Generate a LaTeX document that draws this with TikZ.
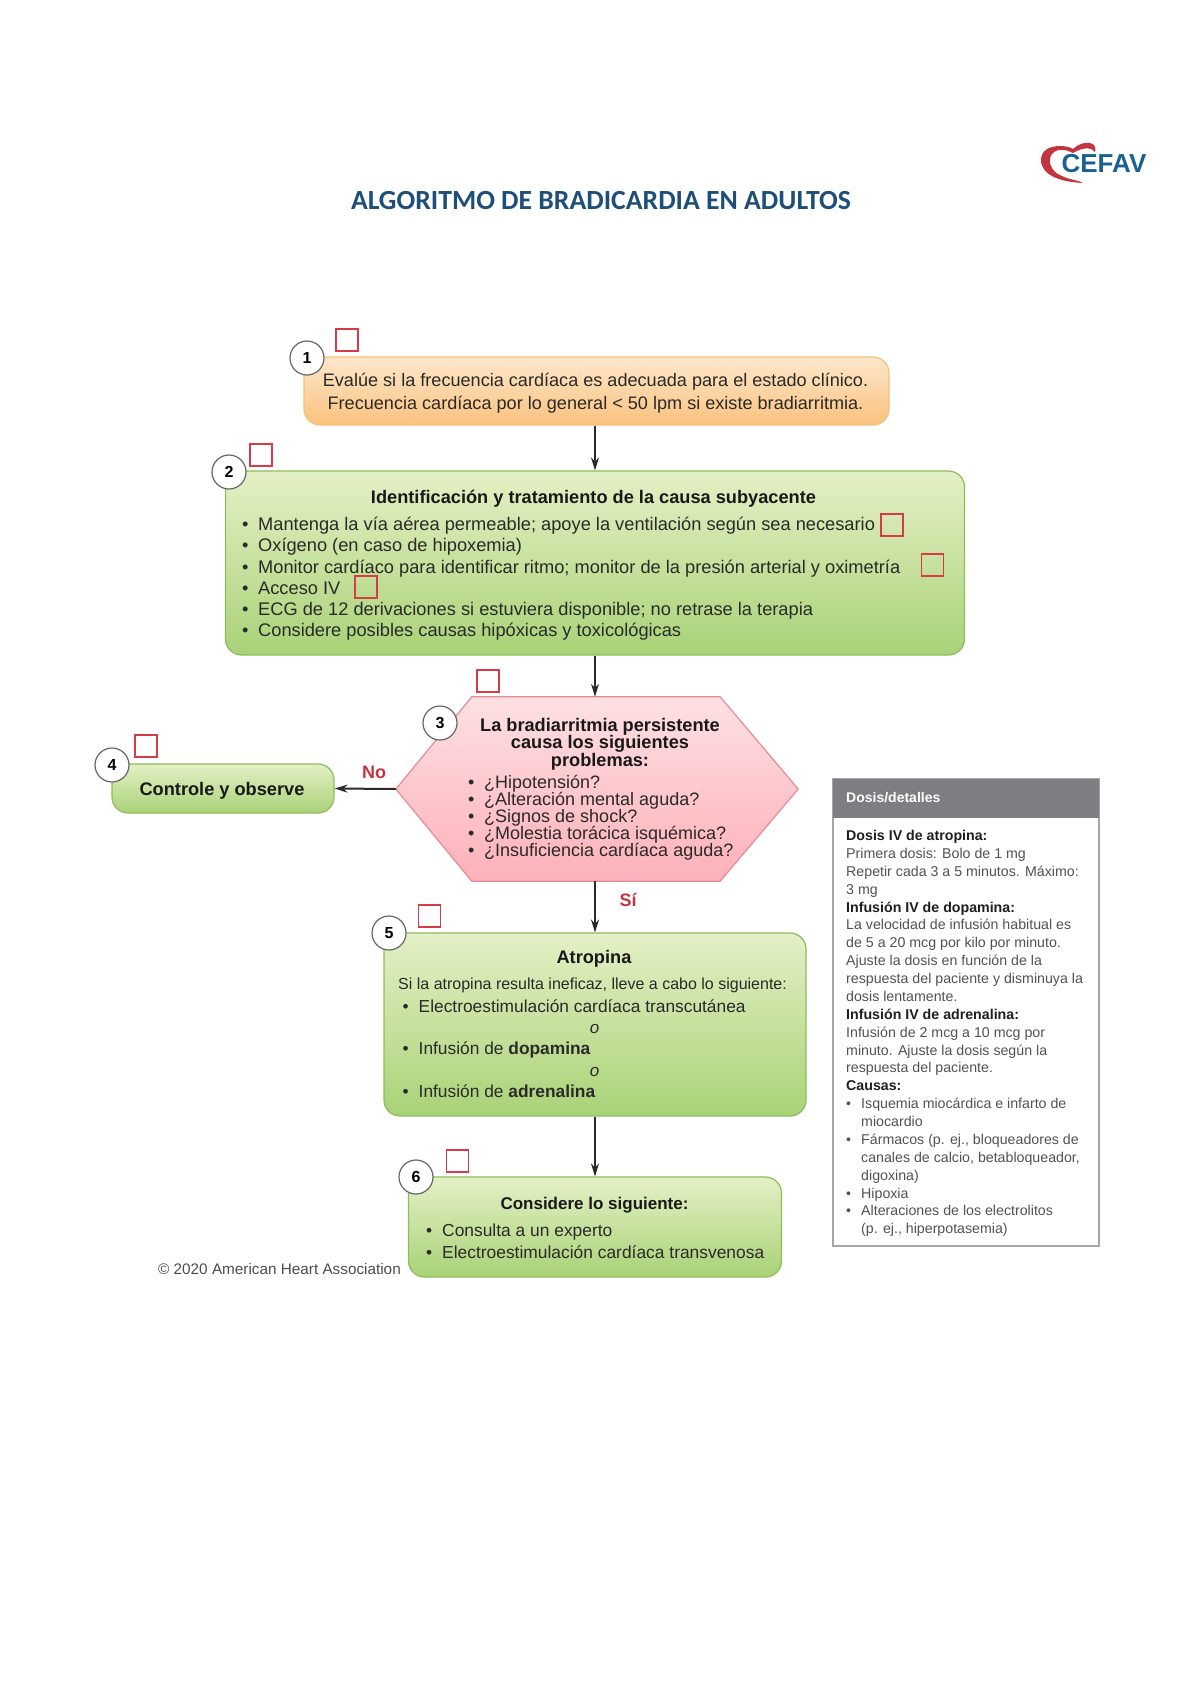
\documentclass[tikz,border=0pt]{standalone}
\usepackage{fontspec}
\setmainfont{Liberation Sans}
\newfontfamily\titlefont{Carlito}
\usetikzlibrary{arrows.meta}

\definecolor{tinta}{HTML}{2A2A28}
\definecolor{rojo}{HTML}{D93A48}
\definecolor{azul}{HTML}{1F4E79}
\definecolor{azullogo}{HTML}{1A6090}
\definecolor{verdea}{HTML}{E4F0C6}
\definecolor{verdeb}{HTML}{8FBC5C}
\definecolor{verdec}{HTML}{A9D277}
\definecolor{narana}{HTML}{FDE7CB}
\definecolor{naranb}{HTML}{F5C07A}
\definecolor{naranc}{HTML}{FBC27E}
\definecolor{rosaa}{HTML}{FDE0E3}
\definecolor{rosab}{HTML}{E98A94}
\definecolor{rosac}{HTML}{FDB1B9}
\tikzset{
    caja/.style={draw=#1, line width=1.2pt, rounded corners=16pt, inner sep=0pt, text=tinta},
    verde/.style={caja=verdeb, top color=verdea, bottom color=verdec},
    num/.style={circle, draw=gray!80!black, fill=white, line width=1.2pt, minimum size=34pt,
        inner sep=0pt, font=\fontsize{16}{18}\selectfont\bfseries, text=black},
    casilla/.style={draw=rojo, line width=1.6pt, minimum width=22pt, minimum height=22pt, inner sep=0pt},
    flecha/.style={draw=tinta, line width=1.1pt, -{Stealth[length=13pt,width=8pt]}},
    lista/.style={anchor=north west, align=left, inner sep=0pt, text=tinta,
        font=\fontsize{18.25}{21.2}\selectfont},
    rotulo/.style={inner sep=0pt, text=black!90, font=\fontsize{18.2}{21}\selectfont\bfseries},
    marca/.style={inner sep=0pt, text=rojo!90!black, font=\fontsize{18}{20}\selectfont\bfseries},
    panel/.style={anchor=north west, align=left, inner sep=0pt, text=black!68,
        font=\fontsize{14.2}{17.88}\selectfont}
}
\newcommand{\punto}{\makebox[16pt][l]{\textbullet}}
\newcommand{\puntop}{\makebox[15pt][l]{\textbullet}}
\newcommand{\negra}[1]{\textcolor{black!88}{\textbf{#1}}}

\begin{document}
\begin{tikzpicture}[x=1pt, y=-1pt]
    \useasboundingbox (0,0) rectangle (1200,1698);

    % title and logo
    \node[inner sep=0pt, text=azul, font=\titlefont\fontsize{27.7}{30}\selectfont\bfseries] (titulo) at (601,201) {ALGORITMO DE BRADICARDIA EN ADULTOS};
    \fill[rojo!90!black] (1083,183) .. controls (1060,182) and (1041,175) .. (1041,160)
        .. controls (1041,150) and (1050,146) .. (1060,146) .. controls (1065,146) and (1070,147) .. (1073,149)
        .. controls (1078,144) and (1085,142) .. (1090,143) .. controls (1096,144) and (1096,150) .. (1095,152)
        .. controls (1092,148) and (1085,146) .. (1073,153) .. controls (1065,149) and (1058,149) .. (1054,152)
        .. controls (1046,158) and (1050,172) .. (1062,176) .. controls (1070,180) and (1078,180) .. (1083,183) -- cycle;
    \node[inner sep=0pt, text=azullogo, font=\fontsize{26}{28}\selectfont\bfseries] (logo) at (1104,164) {CEFAV};

    % boxes
    \node[caja=naranb, top color=narana, bottom color=naranc, minimum width=585pt, minimum height=68pt] (box1) at (596.5,391) {};
    \node[verde, minimum width=739pt, minimum height=184pt] (box2) at (595,563) {};
    \node[minimum width=402pt, minimum height=184pt, inner sep=0pt] (hex) at (597,789) {};
    \draw[rosab, line width=1.2pt, top color=rosaa, bottom color=rosac] (hex.west) -- ([xshift=76pt]hex.north west)
        -- ([xshift=-78pt]hex.north east) -- (hex.east) -- ([xshift=-78pt]hex.south east)
        -- ([xshift=76pt]hex.south west) -- cycle;
    \node[verde, minimum width=222pt, minimum height=49pt] (box4) at (223,788.5) {};
    \node[verde, minimum width=422pt, minimum height=183pt] (box5) at (595,1024.5) {};
    \node[verde, minimum width=373pt, minimum height=100pt] (box6) at (595,1227) {};

    % connectors
    \draw[flecha] (box2.north |- box1.south) -- (box2.north);
    \draw[flecha] (box2.south) -- (box2.south |- hex.north);
    \draw[flecha, line width=2pt] (hex.west) -- (box4.east);
    \draw[flecha] (box5.north |- hex.south) -- (box5.north);
    \draw[flecha] (box5.south) -- (box6.north);
    \node[marca] (labno) at (374,772) {No};
    \node[marca] (labsi) at (628,900) {Sí};

    % numbers
    \node[num] (n1) at (307,358) {1};
    \node[num] (n2) at (229,472) {2};
    \node[num] (n3) at (440,723) {3};
    \node[num] (n4) at (112,765) {4};
    \node[num] (n5) at (389,933) {5};
    \node[num] (n6) at (416,1177) {6};

    % check squares
    \node[casilla] (c1) at (347,340) {};
    \node[casilla] (c2) at (261,455) {};
    \node[casilla] (c2a) at (892,525) {};
    \node[casilla] (c2b) at (932.5,565) {};
    \node[casilla] (c2c) at (366,587) {};
    \node[casilla] (c3) at (488,681) {};
    \node[casilla] (c4) at (146,746) {};
    \node[casilla] (c5) at (429.5,916) {};
    \node[casilla] (c6) at (457.5,1161) {};

    % box texts
    \node[inner sep=0pt, align=center, text=tinta, font=\fontsize{18.1}{23.5}\selectfont] (t1) at (595.5,393)
        {Evalúe si la frecuencia cardíaca es adecuada para el estado clínico.\\
         Frecuencia cardíaca por lo general < 50 lpm si existe bradiarritmia.};
    \node[rotulo] (t2) at (593.5,498.5) {Identificación y tratamiento de la causa subyacente};
    \node[lista] (l2) at (242,517) {\punto Mantenga la vía aérea permeable; apoye la ventilación según sea necesario\\
        \punto Oxígeno (en caso de hipoxemia)\\
        \punto Monitor cardíaco para identificar ritmo; monitor de la presión arterial y oximetría\\
        \punto Acceso IV\\
        \punto ECG de 12 derivaciones si estuviera disponible; no retrase la terapia\\
        \punto Considere posibles causas hipóxicas y toxicológicas};

    \node[rotulo, align=center, font=\fontsize{18.2}{17}\selectfont\bfseries] (t3) at (600,744) {La bradiarritmia persistente\\causa los siguientes\\problemas:};
    \node[lista, font=\fontsize{18}{17}\selectfont] (l3) at (468,775) {\punto ¿Hipotensión?\\
        \punto ¿Alteración mental aguda?\\
        \punto ¿Signos de shock?\\
        \punto ¿Molestia torácica isquémica?\\
        \punto ¿Insuficiencia cardíaca aguda?};

    \node[rotulo] (t4) at (222,791) {Controle y observe};

    \node[rotulo] (t5) at (594,959) {Atropina};
    \node[lista, font=\fontsize{16}{20}\selectfont] (l5a) at (398,978) {Si la atropina resulta ineficaz, lleve a cabo lo siguiente:};
    \node[lista, font=\fontsize{17.35}{20}\selectfont] (l5b) at (402.5,1000) {\punto Electroestimulación cardíaca transcutánea};
    \node[lista, anchor=center, font=\fontsize{17}{20}\itshape\selectfont] (o5a) at (594.5,1029) {o};
    \node[lista, font=\fontsize{17.35}{20}\selectfont] (l5c) at (402.5,1042) {\punto Infusión de \textbf{dopamina}};
    \node[lista, anchor=center, font=\fontsize{17}{20}\itshape\selectfont] (o5b) at (594.5,1072) {o};
    \node[lista, font=\fontsize{17.35}{20}\selectfont] (l5d) at (402.5,1085) {\punto Infusión de \textbf{adrenalina}};

    \node[rotulo, font=\fontsize{17}{20}\selectfont\bfseries] (t6) at (594.5,1205) {Considere lo siguiente:};
    \node[lista, font=\fontsize{17.4}{21.5}\selectfont] (l6) at (426,1224) {\punto Consulta a un experto\\
        \punto Electroestimulación cardíaca transvenosa};

    \node[inner sep=0pt, text=black!70, font=\fontsize{15.3}{17}\selectfont] (copy) at (279.5,1269) {© 2020 American Heart Association};

    % side panel
    \node[draw=gray!70, line width=1.2pt, fill=white, minimum width=266pt, minimum height=467pt, inner sep=0pt] (pan) at (966,1012.5) {};
    \node[fill=gray!98!blue, minimum width=266pt, minimum height=39pt, inner sep=0pt, anchor=north] (panhead) at (pan.north) {};
    \node[inner sep=0pt, anchor=west, text=white, font=\fontsize{14}{16}\selectfont\bfseries] (pantit) at (846,798) {Dosis/detalles};
    \node[panel] (pantext) at (846,830) {\negra{Dosis IV de atropina:}\\
        Primera dosis: Bolo de 1 mg\\
        Repetir cada 3 a 5 minutos. Máximo:\\
        3 mg\\
        \negra{Infusión IV de dopamina:}\\
        La velocidad de infusión habitual es\\
        de 5 a 20 mcg por kilo por minuto.\\
        Ajuste la dosis en función de la\\
        respuesta del paciente y disminuya la\\
        dosis lentamente.\\
        \negra{Infusión IV de adrenalina:}\\
        Infusión de 2 mcg a 10 mcg por\\
        minuto. Ajuste la dosis según la\\
        respuesta del paciente.\\
        \negra{Causas:}\\
        \puntop Isquemia miocárdica e infarto de\\
        \hspace*{15pt}miocardio\\
        \puntop Fármacos (p. ej., bloqueadores de\\
        \hspace*{15pt}canales de calcio, betabloqueador,\\
        \hspace*{15pt}digoxina)\\
        \puntop Hipoxia\\
        \puntop Alteraciones de los electrolitos\\
        \hspace*{15pt}(p. ej., hiperpotasemia)};
\end{tikzpicture}
\end{document}
